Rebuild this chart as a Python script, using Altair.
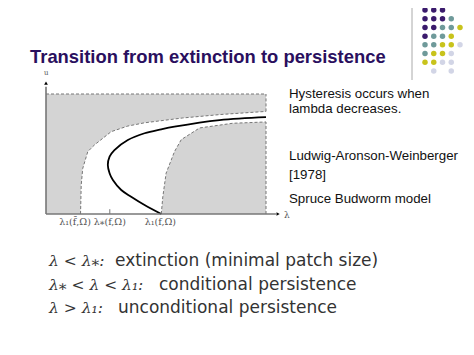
import altair as alt
import pandas as pd

# ---- data (lambda on x: 0..10, u on y: 0..1) ----
upper_x = [1.57, 1.60, 1.67, 1.90, 2.20, 2.96, 3.72, 4.48, 6.20, 8.00, 10.0]
upper_y = [0.00, 0.24, 0.38, 0.52, 0.575, 0.686, 0.733, 0.76, 0.80, 0.83, 0.855]

lower_x = [5.24, 5.31, 5.46, 5.84, 6.15, 6.98, 8.48, 10.0]
lower_y = [0.00, 0.144, 0.34, 0.52, 0.62, 0.717, 0.756, 0.767]

solid_x = [5.24, 4.48, 3.87, 3.42, 3.04, 2.89, 2.81, 2.89, 3.11, 3.72, 4.48, 5.24, 5.84, 7.89, 10.0]
solid_y = [0.00, 0.075, 0.144, 0.20, 0.283, 0.34, 0.408, 0.478, 0.533, 0.617, 0.673, 0.706, 0.728, 0.783, 0.808]

box_x = [0.0, 10.0]
box_top = 1.0
axis_x_end = 10.45
axis_y_end = 1.06
arrow_x = 10.55
arrow_y = 1.09

tick_labels = ["λ₁(f̄,Ω)", "λ⁎(f,Ω)", "λ₁(f,Ω)"]
tick_label_x = [1.32, 2.9, 5.2]
lambda_star = 2.9

title_text = "Transition from extinction to persistence"
side_text = ["Hysteresis occurs when", "lambda decreases.", "Ludwig-Aronson-Weinberger", "[1978]", "Spruce Budworm model"]
math_parts = ["λ < λ⁎:", "λ⁎ < λ < λ₁:", "λ > λ₁:"]
word_parts = ["extinction (minimal patch size)", "conditional persistence", "unconditional persistence"]

dot_row = [0, 0, 0, 1, 1, 1, 1, 2, 2, 2, 2, 2, 3, 3, 3, 3, 4, 4, 4, 4, 4, 5, 5, 5, 5, 6, 6, 6, 6, 7, 7]
dot_col = [0, 1, 2, 0, 1, 2, 3, 0, 1, 2, 3, 4, 0, 1, 2, 3, 0, 1, 2, 3, 4, 0, 1, 2, 3, 0, 1, 2, 3, 1, 3]
dot_kind = ["P", "P", "P", "P", "P", "P", "T", "P", "P", "T", "T", "Y", "P", "T", "T", "Y",
            "T", "T", "Y", "Y", "L", "T", "Y", "Y", "L", "Y", "Y", "L", "L", "L", "L"]

# ---- scales ----
XS = alt.Scale(domain=[0, 10], nice=False, zero=False)
YS = alt.Scale(domain=[0, 1], nice=False, zero=False)
GRAY_FILL = "#d4d4d4"
DASH_COL = "#777777"


def X(f):
    return alt.X(f, type="quantitative", scale=XS, axis=None)


def Y(f):
    return alt.Y(f, type="quantitative", scale=YS, axis=None)


# left gray region (above the upper dashed curve)
left_df = pd.DataFrame({"x": [0.0] + upper_x, "y": [0.0] + upper_y})
left_df["top"] = box_top
left_area = alt.Chart(left_df).mark_area(color=GRAY_FILL, opacity=1).encode(
    x=X("x"), y=Y("y"), y2="top")

# right gray region (below the lower dashed curve)
right_df = pd.DataFrame({"x": lower_x, "y": lower_y})
right_df["bot"] = 0.0
right_area = alt.Chart(right_df).mark_area(color=GRAY_FILL, opacity=1).encode(
    x=X("x"), y=Y("y"), y2="bot")

# dashed boundaries
up_df = pd.DataFrame({"x": upper_x, "y": upper_y, "i": range(len(upper_x))})
lo_df = pd.DataFrame({"x": lower_x, "y": lower_y, "i": range(len(lower_x))})
dash_kw = dict(color=DASH_COL, strokeDash=[3, 2], strokeWidth=1)
up_line = alt.Chart(up_df).mark_line(**dash_kw).encode(x=X("x"), y=Y("y"), order="i:Q")
lo_line = alt.Chart(lo_df).mark_line(**dash_kw).encode(x=X("x"), y=Y("y"), order="i:Q")

top_df = pd.DataFrame({"x": [box_x[0]], "x2": [box_x[1]], "y": [box_top]})
top_rule = alt.Chart(top_df).mark_rule(**dash_kw).encode(x=X("x"), x2="x2", y=Y("y"))
redge_df = pd.DataFrame({"x": [box_x[1], box_x[1]], "y": [upper_y[-1], 0.0], "y2": [box_top, lower_y[-1]]})
redge = alt.Chart(redge_df).mark_rule(**dash_kw).encode(x=X("x"), y=Y("y"), y2="y2")

# solid bifurcation curve
sol_df = pd.DataFrame({"x": solid_x, "y": solid_y, "i": range(len(solid_x))})
solid = alt.Chart(sol_df).mark_line(color="black", strokeWidth=1.8, interpolate="catmull-rom").encode(
    x=X("x"), y=Y("y"), order="i:Q")

# axes with arrows
ax_df = pd.DataFrame({"x": [0.0, 0.0], "x2": [axis_x_end, 0.0], "y": [0.0, 0.0], "y2": [0.0, axis_y_end]})
axes = alt.Chart(ax_df).mark_rule(color="#777777", strokeWidth=1.6).encode(
    x=X("x"), x2="x2", y=Y("y"), y2="y2")
arx = alt.Chart(pd.DataFrame({"x": [arrow_x], "y": [0.0]})).mark_point(
    shape="triangle-right", filled=True, color="black", size=14, opacity=1).encode(x=X("x"), y=Y("y"))
ary = alt.Chart(pd.DataFrame({"x": [0.0], "y": [arrow_y]})).mark_point(
    shape="triangle-up", filled=True, color="black", size=14, opacity=1).encode(x=X("x"), y=Y("y"))

tick_df = pd.DataFrame({"x": [lambda_star], "y": [0.0], "y2": [0.04]})
tick = alt.Chart(tick_df).mark_rule(color="#777777", strokeWidth=1).encode(x=X("x"), y=Y("y"), y2="y2")

lab_df = pd.DataFrame({"x": tick_label_x, "t": tick_labels})
labels = alt.Chart(lab_df).mark_text(font="DejaVu Serif", fontSize=9.5, color="#555555",
                                     baseline="alphabetic", align="center").encode(
    x=X("x"), y=alt.value(131), text="t:N")


def txt(s, x, y, **kw):
    return alt.Chart(pd.DataFrame({"t": [s]})).mark_text(
        align="left", baseline="alphabetic", **kw).encode(
        x=alt.value(x), y=alt.value(y), text="t:N")


layers = [left_area, right_area, up_line, lo_line, top_rule, redge, solid, axes, arx, ary, tick, labels]

layers.append(txt("u", -2, -19, font="DejaVu Serif", fontSize=7, color="#555555"))
layers.append(txt("λ", 238, 124, font="DejaVu Serif", fontSize=9, color="#555555"))
layers.append(txt(title_text, -16, -31, font="Liberation Sans", fontSize=18.4, fontWeight="bold", color="#2a0f5e"))

side_y = [3.5, 19, 66, 85, 109]
for s, yy in zip(side_text, side_y):
    layers.append(txt(s, 243, yy, font="Liberation Sans", fontSize=13.3, color="#111111"))

line_y = [172, 196, 219]
word_x = [69, 113, 72]
for m, w, yy, wx in zip(math_parts, word_parts, line_y, word_x):
    layers.append(txt(m, 3, yy, font="DejaVu Serif", fontSize=15.5, fontStyle="italic", color="#333333"))
    layers.append(txt(w, wx, yy, font="DejaVu Sans", fontSize=17, color="#333333"))

# decorative dot grid and separator
dot_df = pd.DataFrame({"r": dot_row, "c": dot_col, "k": dot_kind})
dots = alt.Chart(dot_df).mark_circle(size=30, opacity=1).encode(
    x=alt.X("c:Q", scale=alt.Scale(domain=[0, 4], range=[379, 414]), axis=None),
    y=alt.Y("r:Q", scale=alt.Scale(domain=[0, 7], range=[-84, -23]), axis=None),
    color=alt.Color("k:N", scale=alt.Scale(domain=["P", "T", "Y", "L"],
                                           range=["#3a1a6c", "#6f9a9a", "#c8c31c", "#d2d5e6"]), legend=None))
sep = alt.Chart(pd.DataFrame({"a": [0]})).mark_rule(color="#aaaaaa", strokeWidth=1).encode(
    x=alt.value(366), y=alt.value(-86), y2=alt.value(-14))

chart = alt.layer(*layers).resolve_scale(x="shared", y="shared")
deco = alt.layer(dots, sep)
full = alt.layer(chart, deco).resolve_scale(x="independent", y="independent", color="independent").properties(
    width=220, height=120,
    autosize=alt.AutoSizeParams(type="none"),
    padding={"left": 38, "top": 86, "right": 200, "bottom": 133},
    background="white",
).configure_view(stroke=None)

full.save("out.html", embed_options={"renderer": "svg", "actions": False})
